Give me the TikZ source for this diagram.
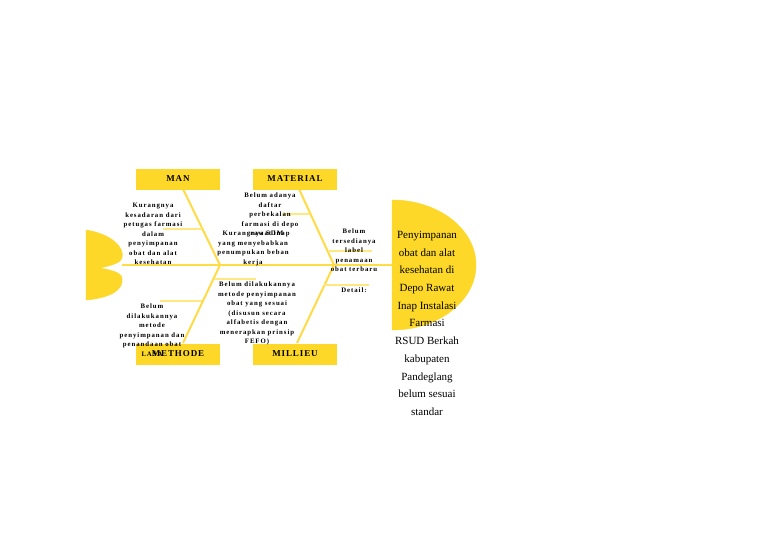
\documentclass[tikz,border=0pt]{standalone}
\usepackage{fontspec}
\setmainfont{Liberation Serif}
\newfontfamily\bonefont[LetterSpace=14]{Liberation Serif}
\newfontfamily\boxfont[LetterSpace=10]{Liberation Serif}
\usetikzlibrary{positioning}
\definecolor{fishgold}{RGB}{253,216,40}
\definecolor{bone}{RGB}{255,220,70}
\definecolor{twig}{RGB}{255,232,130}

\tikzset{
	category/.style={rectangle, fill=fishgold, minimum width=84pt, minimum height=21pt, inner sep=0pt, font=\boxfont\bfseries\fontsize{9}{10}\selectfont},
	cause/.style={align=center, inner sep=0pt, anchor=north, font=\bonefont\bfseries\fontsize{6.8}{9.5}\selectfont},
	mainbone/.style={draw=bone, line width=2pt},
	twigline/.style={draw=twig, line width=1.2pt}
}

\begin{document}
\begin{tikzpicture}[x=1pt, y=-1pt]
	\useasboundingbox (0,0) rectangle (768,543);
	\fill[white] (0,0) rectangle (768,543);

	% tail and head
	\filldraw[fishgold] (86,230) .. controls (112,234) and (125,248) .. (122,258) .. controls (120,264) and (108,266) .. (100,268) .. controls (110,270) and (121,272) .. (122,278) .. controls (124,290) and (110,298) .. (86,300) -- cycle;
	\filldraw[fishgold] (392,200) .. controls (438.4,200) and (476,229.1) .. (476,265) .. controls (476,300.9) and (438.4,330) .. (392,330) -- cycle;

	\coordinate (tail) at (122,265);
	\coordinate (head) at (392,265);
	\coordinate (leftjoint) at (220,265);
	\coordinate (rightjoint) at (334,265);
	\coordinate (mantop) at (183,189);
	\coordinate (materialtop) at (299,189);
	\coordinate (methodebottom) at (183,343);
	\coordinate (millieubottom) at (297,343);

	\draw[mainbone] (tail) -- (head);
	\draw[mainbone] (mantop) -- (leftjoint) -- (methodebottom);
	\draw[mainbone] (materialtop) -- (rightjoint) -- (millieubottom);

	% short cause lines
	\coordinate (mantwig) at (163,229);
	\coordinate (mantwigend) at (202,229);
	\coordinate (materialtwig) at (282,214);
	\coordinate (materialtwigend) at (310,214);
	\coordinate (labeltwig) at (328,251);
	\coordinate (labeltwigend) at (372,251);
	\coordinate (detailtwig) at (324,285);
	\coordinate (detailtwigend) at (369,285);
	\coordinate (fefotwig) at (214,279);
	\coordinate (fefotwigend) at (256,279);
	\coordinate (lasatwig) at (160,301);
	\coordinate (lasatwigend) at (202,301);
	\draw[twigline] (mantwig) -- (mantwigend);
	\draw[twigline] (materialtwig) -- (materialtwigend);
	\draw[twigline] (labeltwig) -- (labeltwigend);
	\draw[twigline] (detailtwig) -- (detailtwigend);
	\draw[twigline] (fefotwig) -- (fefotwigend);
	\draw[twigline] (lasatwig) -- (lasatwigend);

	\node[category] (man) at (178,179) {MAN};
	\node[category] (material) at (295,179) {MATERIAL};
	\node[category] (methode) at (178,354) {METHODE};
	\node[category] (millieu) at (295,354) {MILLIEU};

	\node[cause] (kesadaran) at (153,203) {Kurangnya\\kesadaran dari\\petugas farmasi\\dalam\\penyimpanan\\obat dan alat\\kesehatan};
	\node[cause] (daftar) at (270,193) {Belum adanya\\daftar\\perbekalan\\farmasi di depo\\rawat inap};
	\node[cause] (sdm) at (253,231) {Kurangnya SDM\\yang menyebabkan\\penumpukan beban\\kerja};
	\node[cause] (label) at (354,229) {Belum\\tersedianya\\label\\penamaan\\obat terbaru};
	\node[cause] (detail) at (354,288) {Detail:};
	\node[cause] (fefo) at (257,282) {Belum dilakukannya\\metode penyimpanan\\obat yang sesuai\\(disusun secara\\alfabetis dengan\\menerapkan prinsip\\FEFO)};
	\node[cause] (lasa) at (152,304) {Belum\\dilakukannya\\metode\\penyimpanan dan\\penandaan obat\\LASA};

	\node[align=center, inner sep=0pt, anchor=north, font=\fontsize{11}{17.7}\selectfont] (problem) at (427,231) {Penyimpanan\\obat dan alat\\kesehatan di\\Depo Rawat\\Inap Instalasi\\Farmasi\\RSUD Berkah\\kabupaten\\Pandeglang\\belum sesuai\\standar};
\end{tikzpicture}
\end{document}
